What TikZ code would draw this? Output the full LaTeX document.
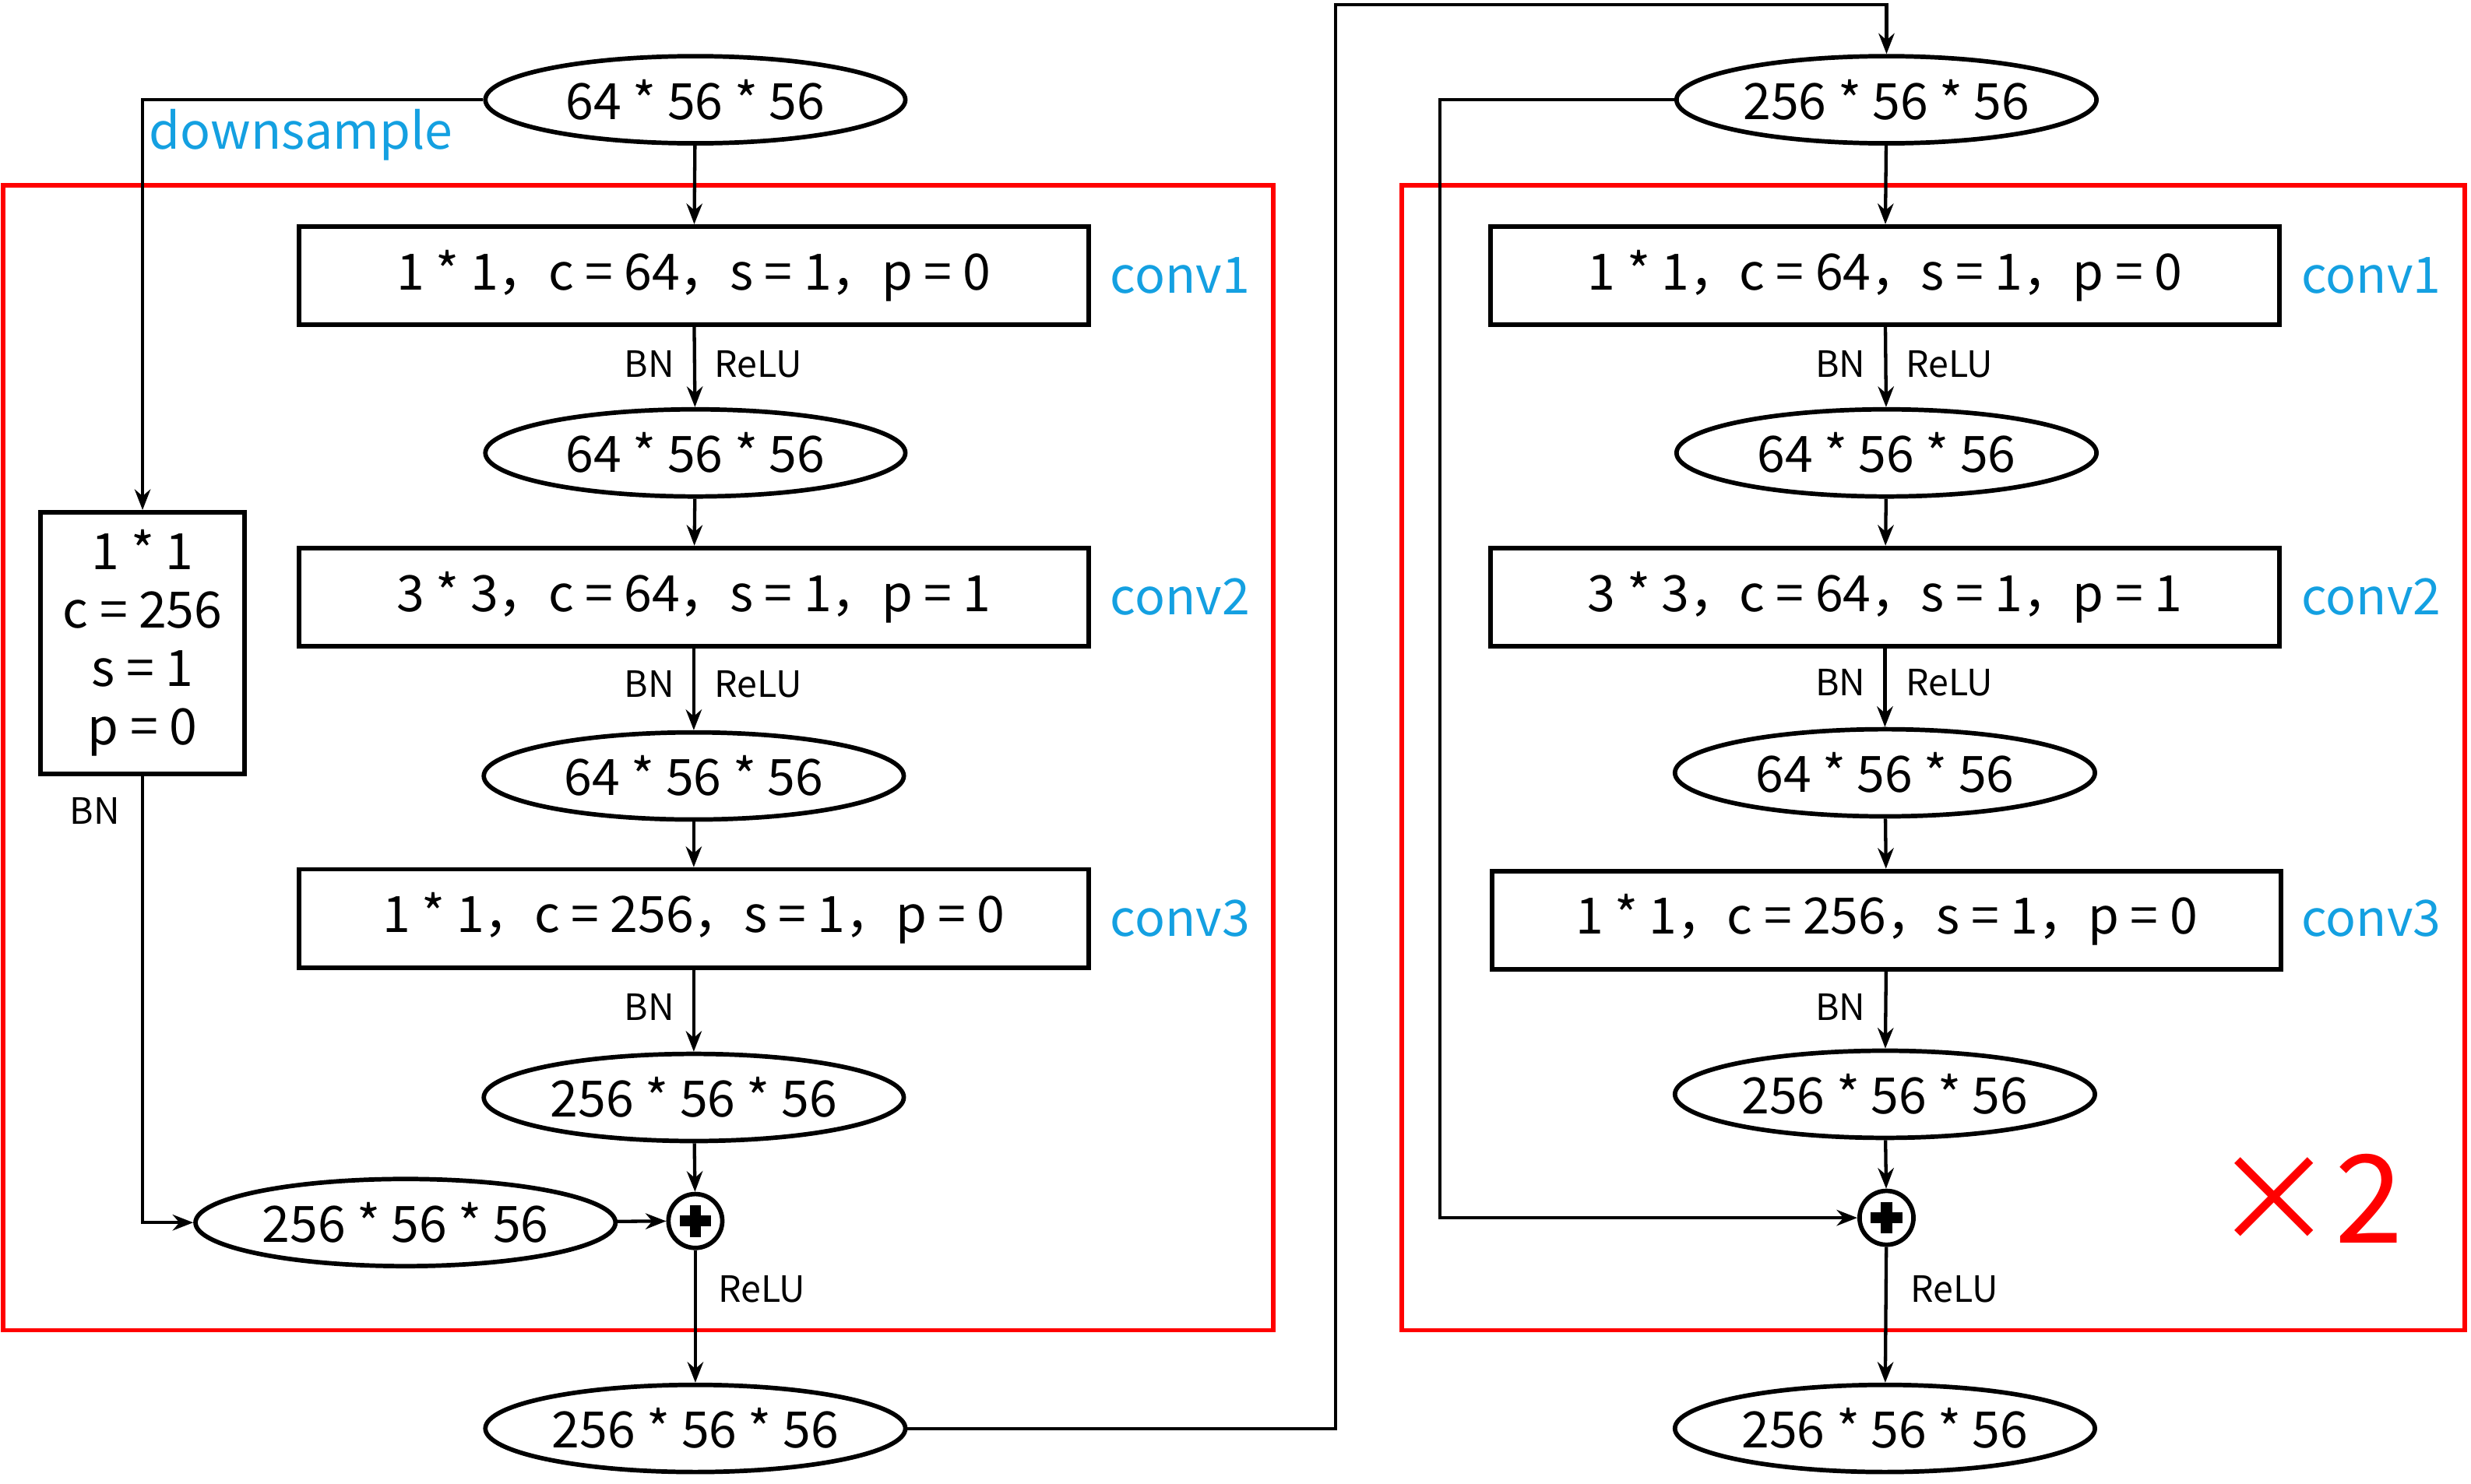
\documentclass[tikz,border=0pt]{standalone}
\usepackage{fontspec}
\setmainfont{Noto Sans CJK SC}
\usetikzlibrary{shapes.geometric,arrows.meta}
\definecolor{lblue}{RGB}{20,160,225}
\tikzset{
 ell/.style={ellipse,draw,line width=0.8pt,minimum width=2.65cm,minimum height=0.55cm,inner sep=0pt,font=\fontsize{9}{9}\selectfont},
 cbox/.style={rectangle,draw,line width=0.8pt,minimum width=4.98cm,minimum height=0.62cm,inner sep=0pt,font=\fontsize{9}{9}\selectfont},
 lab/.style={font=\fontsize{6.5}{6.5}\selectfont,inner sep=1pt},
 clab/.style={text=lblue,font=\fontsize{9}{9}\selectfont},
 arr/.style={line width=0.6pt,-{Stealth[length=1.3mm,width=1mm]}},
 redbox/.style={draw=red,line width=0.8pt},
 plusc/.style={circle,draw,line width=0.8pt,minimum size=0.34cm,inner sep=0pt}
}
\newcommand{\pluscross}[1]{\fill (#1) ++(-3.5,-10) rectangle ++(7,20); \fill (#1) ++(-10,-3.5) rectangle ++(20,7);}
\begin{document}
\begin{tikzpicture}[x=0.01cm,y=-0.01cm]
\useasboundingbox (0,0) rectangle (1560,937);
\draw[redbox] (2,117) rectangle (804,840);
\draw[redbox] (885,117) rectangle (1556,840);
\node[ell] (a0) at (439,63) {64 * 56 * 56};
\node[cbox] (a1) at (438,174) {1 * 1，c = 64，s = 1，p = 0};
\node[ell] (a2) at (439,286) {64 * 56 * 56};
\node[cbox] (a3) at (438,377) {3 * 3，c = 64，s = 1，p = 1};
\node[ell] (a4) at (438,490) {64 * 56 * 56};
\node[cbox] (a5) at (438,580) {1 * 1，c = 256，s = 1，p = 0};
\node[ell] (a6) at (438,693) {256 * 56 * 56};
\node[plusc] (ap) at (439,771) {};
\pluscross{ap}
\node[ell] (as) at (256,772) {256 * 56 * 56};
\node[ell] (a7) at (439,902) {256 * 56 * 56};
\node[rectangle,draw,line width=0.8pt,minimum width=1.29cm,minimum height=1.65cm,inner sep=0pt,align=center,font=\fontsize{9}{10.5}\selectfont] (ds) at (90,406) {1 * 1\\c = 256\\s = 1\\p = 0};
\node[clab] at (745,174) {conv1};
\node[clab] at (745,377) {conv2};
\node[clab] at (745,580) {conv3};
\node[clab] at (190,85) {downsample};
\node[lab,anchor=east] at (430,230) {BN};
\node[lab,anchor=west] at (447,230) {ReLU};
\node[lab,anchor=east] at (430,432) {BN};
\node[lab,anchor=west] at (447,432) {ReLU};
\node[lab,anchor=east] at (430,636) {BN};
\node[lab] at (60,512) {BN};
\node[lab] at (481,814) {ReLU};
\draw[arr] (a0) -- (a1);
\draw[arr] (a1) -- (a2);
\draw[arr] (a2) -- (a3);
\draw[arr] (a3) -- (a4);
\draw[arr] (a4) -- (a5);
\draw[arr] (a5) -- (a6);
\draw[arr] (a6) -- (ap);
\draw[arr] (ap) -- (a7);
\draw[arr] (as) -- (ap);
\draw[arr] (a0.west) -| (ds.north);
\draw[arr] (ds.south) |- (as.west);
\node[ell] (b0) at (1191,63) {256 * 56 * 56};
\node[cbox] (b1) at (1190,174) {1 * 1，c = 64，s = 1，p = 0};
\node[ell] (b2) at (1191,286) {64 * 56 * 56};
\node[cbox] (b3) at (1190,377) {3 * 3，c = 64，s = 1，p = 1};
\node[ell] (b4) at (1190,488) {64 * 56 * 56};
\node[cbox] (b5) at (1191,581) {1 * 1，c = 256，s = 1，p = 0};
\node[ell] (b6) at (1190,691) {256 * 56 * 56};
\node[plusc] (bp) at (1191,769) {};
\pluscross{bp}
\node[ell] (b7) at (1190,902) {256 * 56 * 56};
\node[clab] at (1497,174) {conv1};
\node[clab] at (1497,377) {conv2};
\node[clab] at (1497,580) {conv3};
\node[lab,anchor=east] at (1182,230) {BN};
\node[lab,anchor=west] at (1199,230) {ReLU};
\node[lab,anchor=east] at (1182,431) {BN};
\node[lab,anchor=west] at (1199,431) {ReLU};
\node[lab,anchor=east] at (1182,636) {BN};
\node[lab] at (1234,814) {ReLU};
\node[text=red,font=\fontsize{22}{22}\selectfont] at (1457,757) {×2};
\draw[arr] (b0) -- (b1);
\draw[arr] (b1) -- (b2);
\draw[arr] (b2) -- (b3);
\draw[arr] (b3) -- (b4);
\draw[arr] (b4) -- (b5);
\draw[arr] (b5) -- (b6);
\draw[arr] (b6) -- (bp);
\draw[arr] (bp) -- (b7);
\coordinate (bk) at (909,63);
\draw[arr] (b0.west) -- (bk) |- (bp.west);
\coordinate (c1) at (843,902);
\coordinate (c2) at (843,3);
\coordinate (c3) at (1191,3);
\draw[arr] (a7.east) -- (c1) -- (c2) -- (c3) -- (b0.north);
\end{tikzpicture}
\end{document}
